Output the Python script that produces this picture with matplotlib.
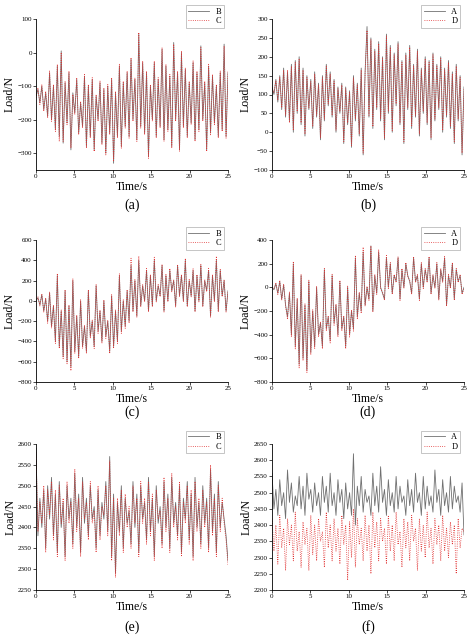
import numpy as np
import matplotlib
matplotlib.use('Agg')
import matplotlib.pyplot as plt

plt.rcParams['font.family'] = ['Liberation Serif', 'DejaVu Serif']

# panel (a) B / C
a_B = [-130,-110,-150,-100,-170,-120,-190,-60,-200,-100,-230,-40,-250,5,-270,-90,-210,-60,-290,-120,
       -180,-80,-240,-150,-220,-70,-280,-100,-250,-80,-290,-130,-200,-90,-270,-110,-300,-100,-240,-80,
       -330,-120,-250,-40,-280,-90,-220,-60,-250,-20,-200,-80,-260,55,-220,-30,-240,-60,-310,-100,
       -200,-30,-250,-80,-220,10,-260,-40,-230,-70,-280,30,-200,-60,-290,0,-220,-50,-250,-90,
       -210,-30,-260,-60,-230,20,-200,-90,-290,-40,-240,-70,-210,-100,-250,-60,-230,25,-250,-60]
a_C = [-135,-105,-155,-95,-175,-115,-195,-55,-205,-95,-235,-35,-265,0,-265,-85,-215,-55,-285,-125,
       -185,-75,-245,-145,-225,-65,-285,-95,-255,-75,-295,-125,-205,-85,-275,-105,-305,-95,-245,-75,
       -325,-115,-255,-35,-285,-85,-225,-55,-255,-15,-205,-75,-265,60,-225,-25,-245,-55,-315,-95,
       -205,-25,-255,-75,-225,15,-265,-35,-235,-65,-285,25,-205,-55,-295,5,-225,-45,-255,-85,
       -215,-25,-265,-55,-235,15,-205,-85,-295,-35,-245,-65,-215,-95,-255,-55,-235,20,-255,-55]
# panel (b) A / D
b_A = [120,100,140,80,150,60,170,40,160,30,180,0,190,50,200,20,170,-10,150,60,
       140,10,160,40,130,-20,150,30,180,70,160,40,140,0,120,50,130,-30,120,20,
       110,-40,150,30,130,-10,170,-60,160,280,40,250,10,220,60,240,30,200,-20,260,
       50,230,0,210,70,240,20,190,-30,210,60,230,10,180,40,220,-10,170,50,200,
       20,190,-20,210,30,180,60,200,0,170,40,190,10,160,-30,180,30,150,-60,120]
b_D = [115,105,135,85,145,65,165,45,165,25,175,5,185,55,195,25,165,-5,145,65,
       135,15,155,45,125,-15,145,35,175,75,155,45,135,5,115,55,125,-25,115,25,
       105,-35,145,35,125,-5,165,-55,155,270,45,245,15,215,65,235,35,195,-15,255,
       55,225,5,205,75,235,25,185,-25,205,65,225,15,175,45,215,-5,165,55,195,
       25,185,-15,205,35,175,65,195,5,165,45,185,15,155,-25,175,35,145,-55,115]
# panel (c) B / C
c_B = [0,30,-40,60,-100,20,-200,80,-250,-50,-400,250,-450,-100,-550,100,-600,-50,-650,200,
       -500,-150,-550,0,-450,-250,-500,100,-350,-200,-450,150,-300,-100,-400,0,-350,-200,-500,50,
       -450,-100,-400,250,-300,0,-250,100,-200,350,-100,200,-150,400,-50,150,0,300,-100,250,
       -50,400,0,150,50,350,-100,250,0,300,100,200,-50,350,50,250,0,400,-50,200,
       50,300,-100,250,0,350,-50,200,100,300,-150,250,0,400,-100,300,50,200,-100,100]
c_C = [0,40,-50,70,-110,30,-220,90,-270,-40,-420,270,-470,-90,-570,110,-620,-40,-690,220,
       -520,-140,-570,10,-470,-240,-520,110,-370,-190,-470,160,-320,-90,-420,10,-370,-190,-520,60,
       -470,-90,-420,270,-320,10,-270,110,-220,420,-110,210,-160,440,-60,160,-10,320,-110,260,
       -60,430,-10,160,40,360,-110,260,-10,320,90,210,-60,360,40,260,-10,420,-60,210,
       40,320,-110,260,-10,360,-60,210,90,320,-160,260,-10,440,-110,310,40,210,-110,90]
# panel (d) A / D
d_A = [0,-20,30,-50,50,-100,20,-150,-250,-50,-400,200,-500,-100,-650,100,-600,-150,-700,50,
       -550,-200,-500,0,-400,-300,-500,150,-350,-250,-450,100,-300,-150,-400,50,-350,-250,-500,0,
       -400,-200,-350,250,-250,-50,-200,300,-150,0,-100,350,-200,100,-50,300,0,-50,-100,250,
       0,200,-50,100,50,250,-100,150,0,200,100,50,-50,250,50,100,-100,200,0,150,
       50,250,-50,100,0,200,-100,150,50,250,-150,100,0,200,-100,150,50,100,-50,0]
d_D = [0,-10,40,-60,60,-110,30,-160,-270,-40,-420,220,-520,-90,-680,110,-620,-140,-720,60,
       -570,-190,-520,10,-420,-290,-520,160,-370,-240,-470,110,-320,-140,-420,60,-370,-240,-520,10,
       -420,-190,-370,270,-270,-40,-220,340,-160,10,-110,350,-210,110,-60,320,-10,-40,-110,270,
       -10,210,-60,110,40,260,-110,160,-10,210,90,60,-60,260,40,110,-110,210,-10,160,
       40,260,-60,110,-10,210,-110,160,40,260,-160,110,-10,210,-110,160,40,110,-60,-10]
# panel (e) B / C
e_B = [2590,2380,2470,2400,2490,2350,2500,2420,2520,2380,2480,2340,2510,2400,2460,2330,2500,2420,2470,2360,
       2530,2400,2480,2340,2520,2410,2470,2380,2500,2420,2450,2350,2490,2380,2460,2420,2510,2390,2570,2330,
       2480,2290,2460,2390,2500,2350,2470,2410,2440,2360,2510,2400,2480,2340,2500,2420,2460,2370,2520,2390,
       2470,2330,2500,2410,2450,2360,2510,2400,2480,2350,2520,2410,2460,2380,2500,2340,2470,2420,2510,2370,
       2480,2330,2520,2400,2460,2360,2500,2410,2470,2350,2540,2390,2480,2340,2510,2400,2460,2420,2380,2320]
e_C = [2580,2390,2460,2410,2500,2340,2490,2430,2510,2370,2490,2330,2500,2410,2470,2320,2510,2410,2460,2350,
       2540,2390,2470,2330,2510,2420,2460,2370,2510,2410,2440,2340,2500,2370,2450,2430,2500,2380,2560,2320,
       2470,2280,2470,2380,2490,2340,2480,2400,2450,2350,2500,2410,2470,2330,2510,2410,2470,2360,2510,2380,
       2480,2320,2490,2420,2440,2350,2520,2390,2470,2340,2530,2400,2450,2370,2510,2330,2460,2410,2500,2360,
       2490,2320,2510,2390,2470,2350,2490,2400,2460,2340,2550,2380,2470,2330,2500,2390,2470,2410,2370,2310]
# panel (f) A / D
f_A = [2560,2450,2510,2430,2540,2460,2500,2420,2570,2470,2530,2440,2490,2460,2550,2450,2520,2430,2560,2480,
       2510,2440,2530,2460,2500,2430,2550,2470,2520,2440,2560,2460,2500,2430,2540,2470,2510,2420,2530,2450,
       2500,2430,2620,2400,2520,2460,2550,2440,2510,2470,2490,2430,2560,2460,2520,2440,2580,2470,2510,2430,
       2540,2460,2500,2440,2550,2450,2520,2470,2490,2430,2540,2460,2510,2440,2560,2470,2500,2430,2550,2450,
       2520,2460,2490,2440,2570,2470,2510,2430,2540,2460,2500,2440,2550,2450,2520,2470,2490,2440,2530,2370]
f_D = [2420,2320,2400,2280,2430,2330,2390,2260,2420,2340,2400,2290,2440,2320,2380,2270,2410,2340,2390,2260,
       2430,2310,2400,2290,2420,2350,2380,2270,2440,2330,2400,2290,2420,2320,2390,2280,2430,2340,2400,2230,
       2410,2300,2450,2270,2420,2340,2390,2290,2430,2320,2400,2250,2440,2330,2410,2290,2420,2350,2390,2280,
       2430,2320,2400,2290,2440,2340,2380,2270,2420,2330,2410,2290,2430,2350,2390,2260,2420,2320,2400,2300,
       2440,2330,2390,2280,2420,2340,2400,2290,2430,2320,2390,2300,2410,2340,2400,2250,2420,2330,2390,2380]

panels = [
    ('(a)', ['B', 'C'], a_B, a_C, (-350, 100), np.arange(-300, 101, 100)),
    ('(b)', ['A', 'D'], b_A, b_D, (-100, 300), np.arange(-100, 301, 50)),
    ('(c)', ['B', 'C'], c_B, c_C, (-800, 600), np.arange(-800, 601, 200)),
    ('(d)', ['A', 'D'], d_A, d_D, (-800, 400), np.arange(-800, 401, 200)),
    ('(e)', ['B', 'C'], e_B, e_C, (2250, 2600), np.arange(2250, 2601, 50)),
    ('(f)', ['A', 'D'], f_A, f_D, (2200, 2650), np.arange(2200, 2651, 50)),
]

W, H = 474, 640
fig = plt.figure(figsize=(W / 100, H / 100), dpi=100)
lefts = [36, 272]
tops = [19, 240, 444]
bottoms = [170, 382, 590]
label_y = [205, 412, 627]

for i, (lab, names, s1, s2, ylim, yt) in enumerate(panels):
    r, c = divmod(i, 2)
    l = lefts[c]
    ax = fig.add_axes([l / W, 1 - bottoms[r] / H, 192 / W, (bottoms[r] - tops[r]) / H])
    t = np.linspace(0, 25, len(s1))
    ax.plot(t, s1, color='#707070', lw=0.6, label=names[0])
    ax.plot(t, s2, color='#e03030', lw=0.6, ls=':', label=names[1])
    ax.set_xlim(0, 25)
    ax.set_ylim(*ylim)
    ax.set_yticks(yt)
    ax.set_xticks([0, 5, 10, 15, 20, 25])
    ax.tick_params(labelsize=5, length=2, width=0.5, pad=1)
    for sp in ['top', 'right']:
        ax.spines[sp].set_visible(False)
    for sp in ['left', 'bottom']:
        ax.spines[sp].set_linewidth(0.6)
    ax.set_xlabel('Time/s', fontsize=8.5, labelpad=1)
    ax.set_ylabel('Load/N', fontsize=8.5, labelpad=1)
    fig.text((l + 96) / W, 1 - label_y[r] / H, lab, ha='center', va='center', fontsize=10)
    leg = ax.legend(loc='upper right', bbox_to_anchor=(1.0, 1.12), fontsize=6, frameon=True,
                    fancybox=False, edgecolor='#999999', handlelength=2.5, borderpad=0.3,
                    labelspacing=0.2)
    leg.get_frame().set_linewidth(0.5)

fig.savefig('out.png', dpi=100)
